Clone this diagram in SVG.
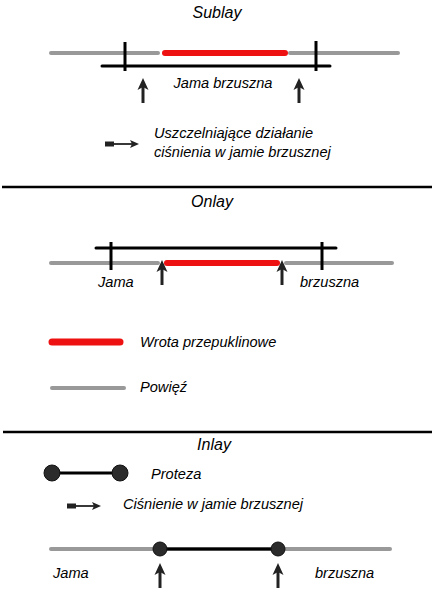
<svg xmlns="http://www.w3.org/2000/svg" width="434" height="600" viewBox="0 0 434 600">
<style>
text{font-family:"Liberation Sans",Arial,sans-serif;font-style:italic;font-size:14.6px;fill:#000}
.t{font-size:16px}
.g{stroke:#999;stroke-width:4;stroke-linecap:round;fill:none}
.r{stroke:#ee1111;stroke-width:6;stroke-linecap:round;fill:none}
.k{stroke:#000;stroke-width:3;stroke-linecap:round;fill:none}
.tick{stroke:#000;stroke-width:3;fill:none}
.div{stroke:#000;stroke-width:2.5;fill:none}
.dot{fill:#2b2b2b;stroke:#111;stroke-width:1}
</style>
<defs>
<g id="up">
<line x1="0" y1="6" x2="0" y2="25" stroke="#222" stroke-width="3"/>
<path d="M0,0 L5.5,12 L0,9 L-5.5,12 Z" fill="#222"/>
</g>
<g id="right">
<path d="M0,-2.5 L9,-2.5 L9,2.5 L0,2.5 Z" fill="#222"/>
<line x1="7" y1="0" x2="28" y2="0" stroke="#222" stroke-width="1.8"/>
<path d="M34,0 L25,-4 L27,0 L25,4 Z" fill="#222"/>
</g>
</defs>
<g id="dividers">
<line class="div" x1="2" y1="187" x2="432" y2="187"/>
<line class="div" x1="3" y1="432" x2="432" y2="432"/>
</g>
<g id="sublay">
<text class="t" x="217" y="18" text-anchor="middle">Sublay</text>
<line class="g" x1="51" y1="53" x2="158" y2="53"/>
<line class="r" x1="165" y1="53" x2="285" y2="53"/>
<line class="g" x1="290" y1="53" x2="398" y2="53"/>
<line class="k" x1="102" y1="66" x2="330" y2="66"/>
<line class="tick" x1="125" y1="42" x2="125" y2="71"/>
<line class="tick" x1="316" y1="41" x2="316" y2="71"/>
<text x="223" y="88" text-anchor="middle">Jama brzuszna</text>
<use href="#up" x="143" y="78"/>
<use href="#up" x="299" y="78"/>
</g>
<g id="legend1">
<use href="#right" x="105" y="144"/>
<text x="154" y="138">Uszczelniające działanie</text>
<text x="154" y="157">ciśnienia w jamie brzusznej</text>
</g>
<g id="onlay">
<text class="t" x="212" y="207" text-anchor="middle">Onlay</text>
<line class="g" x1="51" y1="263" x2="158" y2="263"/>
<line class="r" x1="167" y1="263" x2="277" y2="263"/>
<line class="g" x1="286" y1="263" x2="392" y2="263"/>
<line class="k" x1="96" y1="248" x2="336" y2="248"/>
<line class="tick" x1="111" y1="242" x2="111" y2="270"/>
<line class="tick" x1="322" y1="242" x2="322" y2="270"/>
<text x="98" y="287">Jama</text>
<text x="300" y="287">brzuszna</text>
<use href="#up" x="162" y="260"/>
<use href="#up" x="282" y="260"/>
</g>
<g id="legend2">
<line class="r" x1="52" y1="342" x2="120" y2="342" style="stroke-width:7"/>
<text x="140" y="347">Wrota przepuklinowe</text>
<line class="g" x1="52" y1="388" x2="124" y2="388"/>
<text x="140" y="392">Powięź</text>
</g>
<g id="inlay">
<text class="t" x="214" y="450" text-anchor="middle">Inlay</text>
<line class="k" x1="52" y1="473" x2="120" y2="473"/>
<circle class="dot" cx="52" cy="473" r="8"/>
<circle class="dot" cx="120" cy="473" r="8"/>
<text x="151" y="479">Proteza</text>
<use href="#right" x="67" y="506"/>
<text x="123" y="509">Ciśnienie w jamie brzusznej</text>
<line class="g" x1="51" y1="549" x2="390" y2="549"/>
<line class="k" x1="160" y1="549" x2="278" y2="549"/>
<circle class="dot" cx="160" cy="549" r="7"/>
<circle class="dot" cx="278" cy="549" r="7"/>
<text x="53" y="578">Jama</text>
<text x="315" y="578">brzuszna</text>
<use href="#up" x="160" y="563"/>
<use href="#up" x="278" y="563"/>
</g>
</svg>
